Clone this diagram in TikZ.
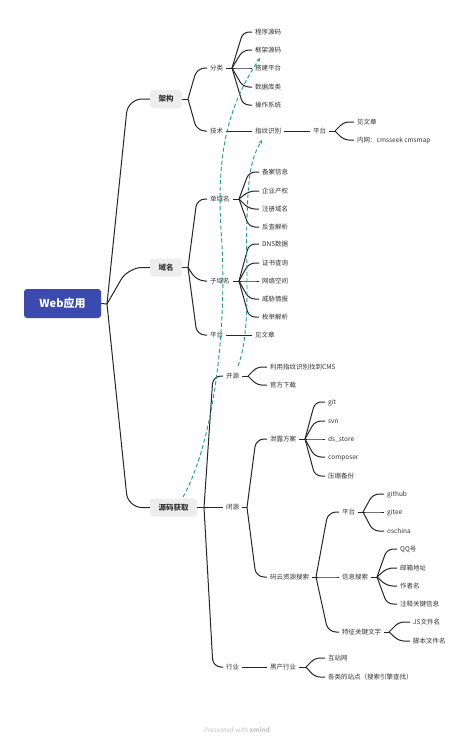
\documentclass[tikz,border=0pt]{standalone}
\usepackage{fontspec}
\setmainfont{Noto Sans CJK SC}
\usetikzlibrary{arrows.meta}
\definecolor{rootblue}{HTML}{3A4AAE}
\definecolor{boxgrey}{HTML}{EDEDED}
\definecolor{txt}{HTML}{333333}
\definecolor{ln}{HTML}{262626}
\definecolor{dteal}{HTML}{1E9B8C}
\definecolor{foot}{HTML}{C4C4C4}
\newcommand\fan[4][6pt]{\draw[conn, rounded corners=#1] (#2) -- (#3 |- #4.west) -- (#4.west);}
\begin{document}
\begin{tikzpicture}[x=1pt,y=-1pt,
  conn/.style={draw=ln, line width=1pt},
  rootbox/.style={fill=rootblue, text=white, rounded corners=3pt,
    font=\fontsize{11}{13}\selectfont\bfseries, minimum width=77pt, minimum height=29pt, inner sep=0pt},
  topicbox/.style={fill=boxgrey, text=txt, rounded corners=3pt,
    font=\fontsize{7.5}{9}\selectfont\bfseries, minimum height=18pt, inner xsep=8.5pt, inner ysep=0pt},
  leaf/.style={text=txt, font=\fontsize{6.5}{8}\selectfont, inner xsep=3pt, inner ysep=1pt,
    text height=5.2pt, text depth=0.8pt, anchor=west},
  link/.style={draw=dteal, line width=0.9pt, dash pattern=on 4pt off 2.5pt, -{Stealth[length=4pt,width=3.5pt]}}
]
\useasboundingbox[fill=white] (0,0) rectangle (474,742);

% root
\node[rootbox] (root) at (62.5,303.5) {Web应用};
\coordinate (J0) at (107,304);
\coordinate (K0) at (128,0);
\draw[conn] (root.east) -- (J0);

% level 1
\node[topicbox] (jg) at (166,99) {架构};
\node[topicbox] (ym) at (166,267.5) {域名};
\node[topicbox] (yh) at (173.5,507.5) {源码获取};
\fan[14pt]{J0}{K0}{jg}
\fan[14pt]{J0}{K0}{ym}
\fan[14pt]{J0}{K0}{yh}

% ---------------- 架构
\coordinate (J1) at (188,99);
\coordinate (K1) at (197,0);
\draw[conn] (jg.east) -- (J1);
\node[leaf] (fl) at (207,68) {分类};
\node[leaf] (js) at (207,131) {技术};
\fan[8pt]{J1}{K1}{fl}
\fan[8pt]{J1}{K1}{js}

\coordinate (J2) at (232,68);
\coordinate (K2) at (243,0);
\draw[conn] (fl.east) -- (J2);
\node[leaf] (f1) at (252,32) {程序源码};
\node[leaf] (f2) at (252,50) {框架源码};
\node[leaf] (f3) at (252,68) {搭建平台};
\node[leaf] (f4) at (252,87) {数据库类};
\node[leaf] (f5) at (252,105) {操作系统};
\foreach \c in {f1,f2,f3,f4,f5} {\fan{J2}{K2}{\c}}

\node[leaf] (zw) at (252,131) {指纹识别};
\draw[conn] (js.east) -- (zw.west);
\node[leaf] (pt1) at (310,131) {平台};
\draw[conn] (zw.east) -- (pt1.west);
\coordinate (J3) at (335,131);
\coordinate (K3) at (344,0);
\draw[conn] (pt1.east) -- (J3);
\node[leaf] (p1) at (354,122) {见文章};
\node[leaf] (p2) at (354,140) {内网：cmsseek cmsmap};
\fan[5pt]{J3}{K3}{p1}
\fan[5pt]{J3}{K3}{p2}

% ---------------- 域名
\coordinate (J4) at (188,267.5);
\coordinate (K4) at (197,0);
\draw[conn] (ym.east) -- (J4);
\node[leaf] (dy) at (207,199) {单域名};
\node[leaf] (zy) at (207,281) {子域名};
\node[leaf] (pt2) at (207,335) {平台};
\fan[8pt]{J4}{K4}{dy}
\fan[8pt]{J4}{K4}{zy}
\fan[8pt]{J4}{K4}{pt2}

\coordinate (J5) at (239,199);
\coordinate (K5) at (249,0);
\draw[conn] (dy.east) -- (J5);
\node[leaf] (d1) at (259,172) {备案信息};
\node[leaf] (d2) at (259,191) {企业产权};
\node[leaf] (d3) at (259,209) {注册域名};
\node[leaf] (d4) at (259,227) {反查解析};
\foreach \c in {d1,d2,d3,d4} {\fan{J5}{K5}{\c}}

\coordinate (J6) at (239,281);
\coordinate (K6) at (249,0);
\draw[conn] (zy.east) -- (J6);
\node[leaf] (z1) at (259,244) {DNS数据};
\node[leaf] (z2) at (259,263) {证书查询};
\node[leaf] (z3) at (259,281) {网络空间};
\node[leaf] (z4) at (259,299) {威胁情报};
\node[leaf] (z5) at (259,317) {枚举解析};
\foreach \c in {z1,z2,z3,z4,z5} {\fan{J6}{K6}{\c}}

\node[leaf] (jwz) at (252,335) {见文章};
\draw[conn] (pt2.east) -- (jwz.west);

% ---------------- 源码获取
\coordinate (J7) at (204,507.5);
\coordinate (K7) at (213,0);
\draw[conn] (yh.east) -- (J7);
\node[leaf] (ky) at (223,376) {开源};
\node[leaf] (by) at (223,507.5) {闭源};
\node[leaf] (hy) at (223,667) {行业};
\fan[8pt]{J7}{K7}{ky}
\fan[8pt]{J7}{K7}{by}
\fan[8pt]{J7}{K7}{hy}

\coordinate (J8) at (248,376);
\coordinate (K8) at (257,0);
\draw[conn] (ky.east) -- (J8);
\node[leaf] (k1) at (267,367) {利用指纹识别找到CMS};
\node[leaf] (k2) at (267,385) {官方下载};
\fan[5pt]{J8}{K8}{k1}
\fan[5pt]{J8}{K8}{k2}

\coordinate (J9) at (247,507.5);
\coordinate (K9) at (256,0);
\draw[conn] (by.east) -- (J9);
\node[leaf] (xl) at (267,439) {泄露方案};
\node[leaf] (my) at (267,577) {码云资源搜索};
\fan[8pt]{J9}{K9}{xl}
\fan[8pt]{J9}{K9}{my}

\coordinate (J10) at (305,439);
\coordinate (K10) at (315,0);
\draw[conn] (xl.east) -- (J10);
\node[leaf] (x1) at (325,402) {git};
\node[leaf] (x2) at (325,421) {svn};
\node[leaf] (x3) at (325,439) {ds\_store};
\node[leaf] (x4) at (325,457) {composer};
\node[leaf] (x5) at (325,476) {压缩备份};
\foreach \c in {x1,x2,x3,x4,x5} {\fan{J10}{K10}{\c}}

\coordinate (J11) at (316,577);
\coordinate (K11) at (328,0);
\draw[conn] (my.east) -- (J11);
\node[leaf] (pt3) at (339,512) {平台};
\node[leaf] (xx) at (339,577) {信息搜索};
\node[leaf] (tz) at (339,632) {特征关键文字};
\fan[8pt]{J11}{K11}{pt3}
\fan[8pt]{J11}{K11}{xx}
\fan[8pt]{J11}{K11}{tz}

\coordinate (J12) at (363,512);
\coordinate (K12) at (373,0);
\draw[conn] (pt3.east) -- (J12);
\node[leaf] (g1) at (384,494) {github};
\node[leaf] (g2) at (384,512) {gitee};
\node[leaf] (g3) at (384,531) {oschina};
\foreach \c in {g1,g2,g3} {\fan{J12}{K12}{\c}}

\coordinate (J13) at (377,577);
\coordinate (K13) at (387,0);
\draw[conn] (xx.east) -- (J13);
\node[leaf] (s1) at (397,549) {QQ号};
\node[leaf] (s2) at (397,568) {邮箱地址};
\node[leaf] (s3) at (397,586) {作者名};
\node[leaf] (s4) at (397,604) {注释关键信息};
\foreach \c in {s1,s2,s3,s4} {\fan{J13}{K13}{\c}}

\coordinate (J14) at (389,632);
\coordinate (K14) at (399,0);
\draw[conn] (tz.east) -- (J14);
\node[leaf] (t1) at (410,622) {JS文件名};
\node[leaf] (t2) at (410,641) {脚本文件名};
\fan[5pt]{J14}{K14}{t1}
\fan[5pt]{J14}{K14}{t2}

\node[leaf] (hc) at (267,667) {黑产行业};
\draw[conn] (hy.east) -- (hc.west);
\coordinate (J15) at (306,667);
\coordinate (K15) at (315,0);
\draw[conn] (hc.east) -- (J15);
\node[leaf] (h1) at (325,658) {互站网};
\node[leaf] (h2) at (325,677) {各类的站点（搜索引擎查找）};
\fan[5pt]{J15}{K15}{h1}
\fan[5pt]{J15}{K15}{h2}

% dashed relationship arrows
\coordinate (a1s) at (183,497);
\coordinate (a1e) at (260,58);
\coordinate (a2s) at (238,366);
\coordinate (a2e) at (262,140);
\draw[link] (a1s) .. controls (215,440) and (228,320) .. (221,230)
  .. controls (217,160) and (225,110) .. (a1e);
\draw[link] (a2s) .. controls (252,330) and (245,260) .. (247,220)
  .. controls (248,180) and (250,160) .. (a2e);

% footer
\node[text=foot, font=\fontsize{6.3}{7.5}\selectfont, inner sep=0pt] (ft) at (237,730) {Presented with \textbf{xmind}};
\end{tikzpicture}
\end{document}
